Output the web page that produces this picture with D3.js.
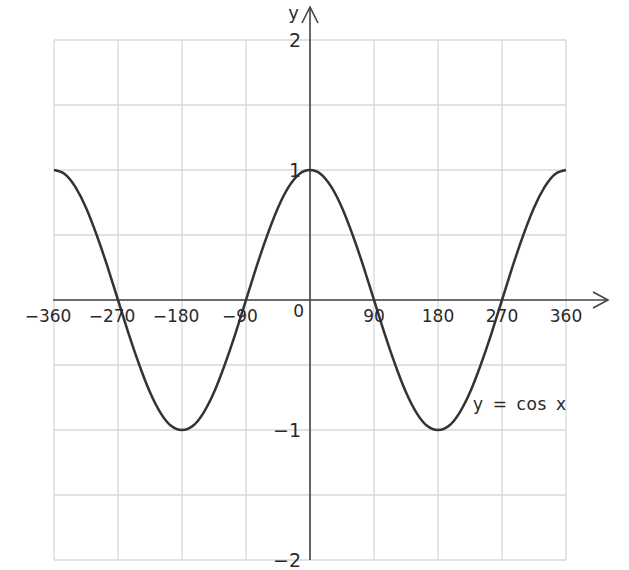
<!DOCTYPE html>
<html>
<head>
<meta charset="utf-8">
<script src="https://cdn.jsdelivr.net/npm/d3@7"></script>
<style>
  html, body { margin: 0; padding: 0; background: #fff; }
  svg { display: block; }
  text { font-family: "DejaVu Sans", sans-serif; fill: #2a2a2a; }
</style>
</head>
<body>
<svg id="chart" width="629" height="570"></svg>
<script>
// x positions in degrees and values
const xDegrees = [-360,-345,-330,-315,-300,-285,-270,-255,-240,-225,-210,-195,-180,-165,-150,-135,-120,-105,-90,-75,-60,-45,-30,-15,0,15,30,45,60,75,90,105,120,135,150,165,180,195,210,225,240,255,270,285,300,315,330,345,360];
const yValues = [1,0.97,0.87,0.71,0.5,0.26,0,-0.26,-0.5,-0.71,-0.87,-0.97,-1,-0.97,-0.87,-0.71,-0.5,-0.26,0,0.26,0.5,0.71,0.87,0.97,1,0.97,0.87,0.71,0.5,0.26,0,-0.26,-0.5,-0.71,-0.87,-0.97,-1,-0.97,-0.87,-0.71,-0.5,-0.26,0,0.26,0.5,0.71,0.87,0.97,1];
const xGrid = [-360,-270,-180,-90,0,90,180,270,360];
const yGrid = [-2,-1.5,-1,-0.5,0,0.5,1,1.5,2];
const xTickLabels = [-360,-270,-180,-90,90,180,270,360];
const yTickLabels = [2,1,-1,-2];
const curveLabel = "y = cos x";

const svg = d3.select("#chart");
const x = d3.scaleLinear().domain([-360, 360]).range([54, 566]);
const y = d3.scaleLinear().domain([-2, 2]).range([560, 40]);

const fmt = v => (v < 0 ? "\u2212" + Math.abs(v) : String(v));

// grid
const grid = svg.append("g").attr("stroke", "#d8d8d8").attr("stroke-width", 1.3);
grid.selectAll("line.v").data(xGrid).join("line")
  .attr("x1", d => x(d)).attr("x2", d => x(d))
  .attr("y1", y(2)).attr("y2", y(-2));
grid.selectAll("line.h").data(yGrid).join("line")
  .attr("x1", x(-360)).attr("x2", x(360))
  .attr("y1", d => y(d)).attr("y2", d => y(d));

// axes
const axisColor = "#444";
const ax = svg.append("g").attr("stroke", axisColor).attr("stroke-width", 1.6).attr("fill", "none");
const x0 = x(0), y0 = y(0);
ax.append("line").attr("x1", x(-360) - 1).attr("x2", 608).attr("y1", y0).attr("y2", y0);
ax.append("path").attr("d", `M${593},${y0 - 8} L608,${y0} L${593},${y0 + 8}`).attr("stroke-linejoin", "miter");
ax.append("line").attr("x1", x0).attr("x2", x0).attr("y1", y(-2)).attr("y2", 7);
ax.append("path").attr("d", `M${x0 - 8},23 L${x0},7 L${x0 + 8},23`);

// curve
const line = d3.line().x((d, i) => x(xDegrees[i])).y(d => y(d)).curve(d3.curveNatural);
svg.append("path").datum(yValues)
  .attr("d", line)
  .attr("fill", "none").attr("stroke", "#333").attr("stroke-width", 2.5);

// x tick labels (digits centred on grid line, minus hangs left)
svg.append("g").selectAll("text").data(xTickLabels).join("text")
  .attr("x", d => x(d) + (d < 0 ? -6 : 0))
  .attr("y", 322)
  .attr("text-anchor", "middle")
  .attr("font-size", 17)
  .text(fmt);
svg.append("text").attr("x", x0 - 6).attr("y", 317).attr("text-anchor", "end").attr("font-size", 17).text("0");

// y tick labels
svg.append("g").selectAll("text").data(yTickLabels).join("text")
  .attr("x", x0 - 9)
  .attr("y", d => y(d) + 7)
  .attr("text-anchor", "end")
  .attr("font-size", 19)
  .text(fmt);

// axis name
svg.append("text").attr("x", x0 - 11).attr("y", 19).attr("text-anchor", "end").attr("font-size", 18).text("y");

// curve label
svg.append("text").attr("x", 473).attr("y", 410).attr("font-size", 17)
  .attr("word-spacing", 3).attr("letter-spacing", 0.6).text(curveLabel);
</script>
</body>
</html>
